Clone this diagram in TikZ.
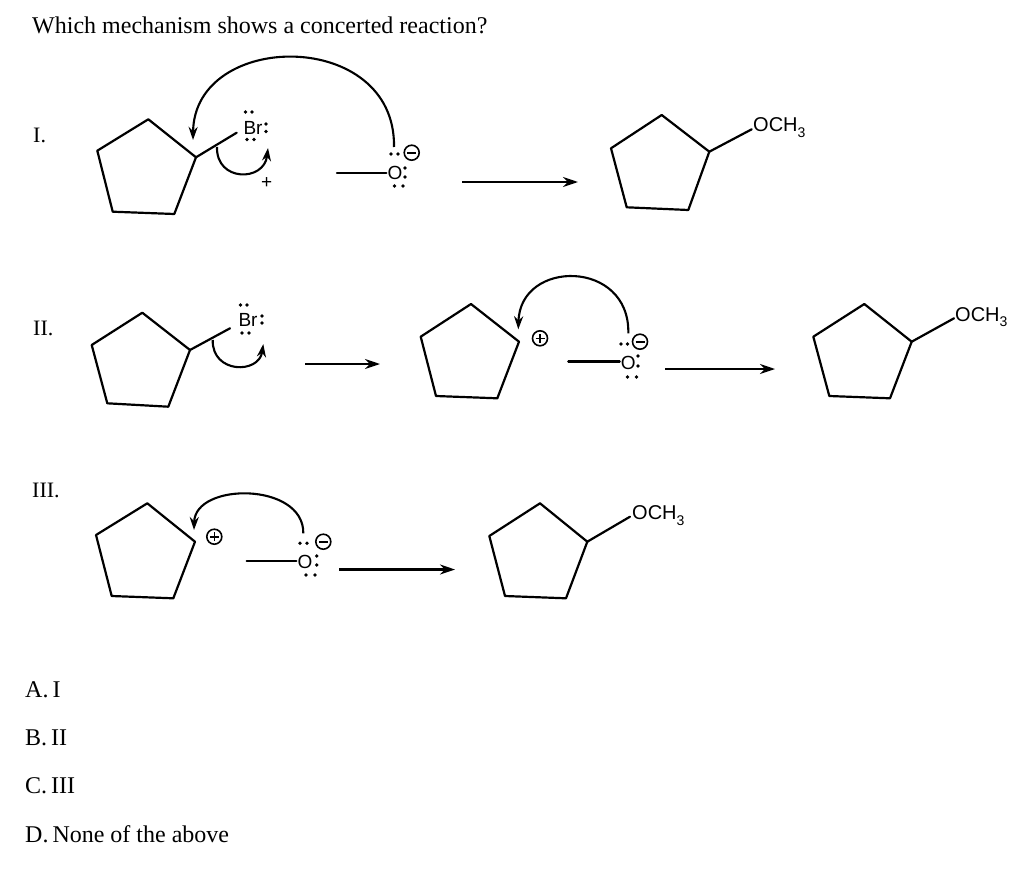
\documentclass[tikz,border=0pt]{standalone}
\usepackage{fontspec}
\setmainfont{Liberation Serif}
\newfontfamily\helv{Liberation Sans}
\usetikzlibrary{arrows.meta}
\newcommand{\methoxy}{{\helv OCH\raisebox{-0.28em}{\fontsize{14}{14}\selectfont 3}}}
\begin{document}
\begin{tikzpicture}[x=1pt,y=-1pt,
  bond/.style={line width=2.2pt, line join=round, line cap=round},
  rxn/.style={line width=2.1pt, -{Stealth[length=15pt,width=10pt]}},
  push/.style={line width=2.1pt, -{Stealth[length=13pt,width=9pt]}},
  txt/.style={font=\fontsize{24}{28}\selectfont, inner sep=0pt, anchor=base west},
  lbl/.style={font=\fontsize{22}{26}\selectfont, inner sep=0pt, anchor=base west},
  atom/.style={font=\helv\fontsize{19}{22}\selectfont, inner sep=1pt},
  grp/.style={font=\helv\fontsize{20}{24}\selectfont, inner sep=0pt, anchor=base west},
  chg/.style={circle, draw, line width=1.6pt, minimum size=15pt, inner sep=0pt},
  sgn/.style={line width=1.6pt},
  dotc/.style={fill=black}
  ]
\useasboundingbox (0,0) rectangle (1024,872);
\fill[white] (0,0) rectangle (1024,872);

% ---------- texts ----------
\node[txt] (title) at (32,33.3) {Which mechanism shows a concerted reaction?};
\node[lbl] (lI) at (33,142) {I.};
\node[lbl] (lII) at (33,335) {II.};
\node[lbl] (lIII) at (32,497) {III.};
\node[txt] (ansA) at (25,697) {A.\,I};
\node[txt] (ansB) at (25,745) {B.\,II};
\node[txt] (ansC) at (25,793) {C.\,III};
\node[txt] (ansD) at (25,842) {D.\,None of the above};

% ---------- Row I ----------
\coordinate (a1) at (148.3,119.3);
\coordinate (a2) at (97.3,150.7);
\coordinate (a3) at (112.7,211.7);
\coordinate (a4) at (174.3,214);
\coordinate (a5) at (196,157.3);
\coordinate (a6) at (236.7,132.7);
\draw[bond] (a1) -- (a2) -- (a3) -- (a4) -- (a5) -- cycle;
\draw[bond] (a5) -- (a6);
\node[atom] (br1) at (253,128) {Br};
\foreach \p in {(245.5,112),(252,112),(247,139.5),(254,139.5),(266,124),(266,131.5)}
  \fill[dotc] \p circle (1.9pt);
\coordinate (s1a) at (217,147);
\coordinate (s1b) at (268,148);
\draw[push] (s1a) .. controls (216,182) and (264,182) .. (s1b);
\node[atom] (plus1) at (266.7,183.3) {+};
\node[atom] (o1) at (395,173) {O};
\coordinate (me1) at (337,172.7);
\draw[bond] (me1) -- (me1 -| o1.west);
\foreach \p in {(391,154),(398,154),(405,168),(405,177),(394.5,186),(403,186)}
  \fill[dotc] \p circle (1.9pt);
\node[chg] (m1) at (411.7,152.7) {};
\draw[sgn] ([xshift=-4.5pt]m1.center) -- ([xshift=4.5pt]m1.center);
\coordinate (t1a) at (394,147);
\coordinate (t1b) at (193,140);
\draw[push] (t1a) .. controls (396,28) and (194,30) .. (t1b);
\coordinate (r1a) at (462,182);
\coordinate (r1b) at (578,182);
\draw[rxn] (r1a) -- (r1b);
\coordinate (b1) at (661.7,115);
\coordinate (b2) at (611,148.3);
\coordinate (b3) at (626.7,207.3);
\coordinate (b4) at (688.3,210);
\coordinate (b5) at (709.3,151.7);
\coordinate (b6) at (751.7,129.3);
\draw[bond] (b1) -- (b2) -- (b3) -- (b4) -- (b5) -- cycle;
\draw[bond] (b5) -- (b6);
\node[grp] (och1) at (753,131.5) {\methoxy};

% ---------- Row II ----------
\coordinate (c1) at (142.3,312.7);
\coordinate (c2) at (91.7,345);
\coordinate (c3) at (107.3,403.3);
\coordinate (c4) at (168.3,406.7);
\coordinate (c5) at (190,350);
\coordinate (c6) at (230,328.3);
\draw[bond] (c1) -- (c2) -- (c3) -- (c4) -- (c5) -- cycle;
\draw[bond] (c5) -- (c6);
\node[atom] (br2) at (248,320) {Br};
\foreach \p in {(240.5,305),(247,305),(242,333),(249,333),(262,316),(262,323)}
  \fill[dotc] \p circle (1.9pt);
\coordinate (s2a) at (212.7,340);
\coordinate (s2b) at (263.3,344);
\draw[push] (s2a) .. controls (212,374) and (259,374) .. (s2b);
\coordinate (r2a) at (305,364);
\coordinate (r2b) at (380,364);
\draw[rxn] (r2a) -- (r2b);
\coordinate (d1) at (471,304);
\coordinate (d2) at (420.7,336.7);
\coordinate (d3) at (436,396);
\coordinate (d4) at (497.3,398.3);
\coordinate (d5) at (519,341.7);
\draw[bond] (d1) -- (d2) -- (d3) -- (d4) -- (d5) -- cycle;
\node[chg] (p2) at (540,338.3) {};
\draw[sgn] ([xshift=-4.5pt]p2.center) -- ([xshift=4.5pt]p2.center);
\draw[sgn] ([yshift=-4.5pt]p2.center) -- ([yshift=4.5pt]p2.center);
\node[atom] (o2) at (628.3,363) {O};
\coordinate (me2) at (568.3,361.5);
\draw[bond] (me2) -- (me2 -| o2.west);
\foreach \p in {(621,344),(627.5,344),(638,356),(638,366),(627.5,377),(636.5,377)}
  \fill[dotc] \p circle (1.9pt);
\node[chg] (m2) at (640,341.7) {};
\draw[sgn] ([xshift=-4.5pt]m2.center) -- ([xshift=4.5pt]m2.center);
\coordinate (t2a) at (628.3,333.3);
\coordinate (t2b) at (518.3,329.3);
\draw[push] (t2a) .. controls (630,259) and (520,259) .. (t2b);
\coordinate (r3a) at (665,369);
\coordinate (r3b) at (775,369);
\draw[rxn] (r3a) -- (r3b);
\coordinate (e1) at (864.3,304);
\coordinate (e2) at (813.3,336.7);
\coordinate (e3) at (829.3,396);
\coordinate (e4) at (890,398.3);
\coordinate (e5) at (911.7,341.7);
\coordinate (e6) at (954,318.3);
\draw[bond] (e1) -- (e2) -- (e3) -- (e4) -- (e5) -- cycle;
\draw[bond] (e5) -- (e6);
\node[grp] (och2) at (955,321) {\methoxy};

% ---------- Row III ----------
\coordinate (f1) at (147.3,503.3);
\coordinate (f2) at (96,535);
\coordinate (f3) at (111.7,596);
\coordinate (f4) at (173.3,598.3);
\coordinate (f5) at (195,541.7);
\draw[bond] (f1) -- (f2) -- (f3) -- (f4) -- (f5) -- cycle;
\node[chg] (p3) at (214.3,536.7) {};
\draw[sgn] ([xshift=-4.5pt]p3.center) -- ([xshift=4.5pt]p3.center);
\draw[sgn] ([yshift=-4.5pt]p3.center) -- ([yshift=4.5pt]p3.center);
\node[atom] (o3) at (305,561.7) {O};
\coordinate (me3) at (246.7,561);
\draw[bond] (me3) -- (me3 -| o3.west);
\foreach \p in {(300,543.3),(307,543.3),(316.7,556),(316.7,565),(306,575),(315,575)}
  \fill[dotc] \p circle (1.9pt);
\node[chg] (m3) at (323.3,541.7) {};
\draw[sgn] ([xshift=-4.5pt]m3.center) -- ([xshift=4.5pt]m3.center);
\coordinate (t3a) at (303.3,533.3);
\coordinate (t3b) at (194,530);
\draw[push] (t3a) .. controls (304,482) and (195,482) .. (t3b);
\coordinate (r4a) at (339,569.5);
\coordinate (r4b) at (455,569.5);
\draw[rxn] (r4a) -- (r4b);
\coordinate (g1) at (540,503.3);
\coordinate (g2) at (489.3,536);
\coordinate (g3) at (505,596);
\coordinate (g4) at (566,598.3);
\coordinate (g5) at (587.3,541.7);
\coordinate (g6) at (630,516.7);
\draw[bond] (g1) -- (g2) -- (g3) -- (g4) -- (g5) -- cycle;
\draw[bond] (g5) -- (g6);
\node[grp] (och3) at (632,519.5) {\methoxy};
\end{tikzpicture}
\end{document}
